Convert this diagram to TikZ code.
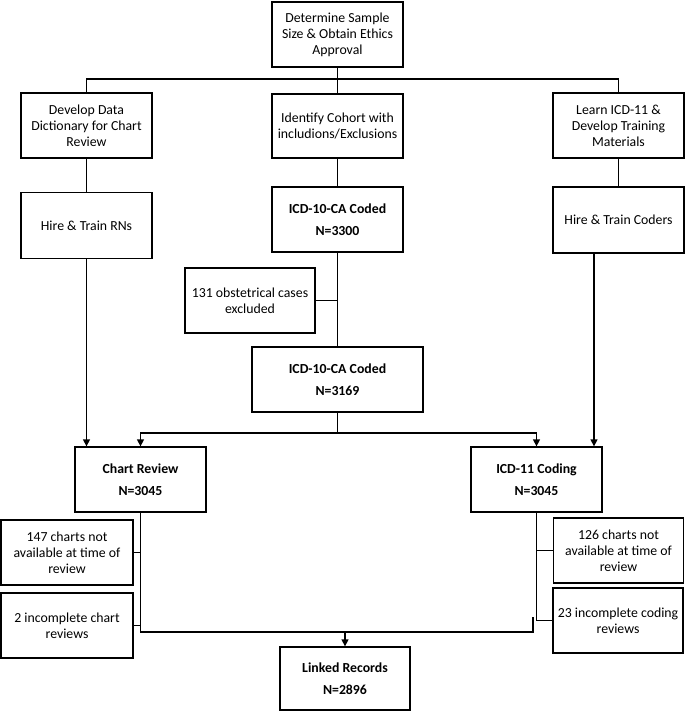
\documentclass[tikz,border=0pt]{standalone}
\usepackage{fontspec}
\setmainfont{Carlito}
\usetikzlibrary{arrows.meta}
\tikzset{
  box/.style={draw, line width=1.3pt, align=center, inner sep=0pt,
    font=\fontsize{13.8}{16}\selectfont},
  boldbox/.style={box, font=\fontsize{13.8}{21.5}\selectfont\bfseries},
  link/.style={line width=1.3pt},
  arr/.style={link, -{Triangle[length=7pt,width=7pt]}}
}
\begin{document}
\begin{tikzpicture}[x=1pt,y=-1pt]
\useasboundingbox (0,0) rectangle (685,712);

\node[box, minimum width=131pt, minimum height=65pt] (T) at (337.5,34.5)
  {Determine Sample\\Size \& Obtain Ethics\\Approval};
\node[box, minimum width=131pt, minimum height=65pt] (D) at (86.5,125.5)
  {Develop Data\\Dictionary for Chart\\Review};
\node[box, minimum width=131pt, minimum height=64pt] (I) at (337.5,126)
  {Identify Cohort with\\includions/Exclusions};
\node[box, minimum width=131pt, minimum height=65pt] (L) at (618.5,125.5)
  {Learn ICD-11 \&\\Develop Training\\Materials};
\node[box, minimum width=131pt, minimum height=66pt] (R) at (86.5,225.5)
  {Hire \& Train RNs};
\node[boldbox, minimum width=131pt, minimum height=65pt] (C1) at (337.5,219.5)
  {ICD-10-CA Coded\\N=3300};
\node[box, minimum width=131pt, minimum height=66pt] (H) at (618.5,220)
  {Hire \& Train Coders};
\node[box, minimum width=130pt, minimum height=65pt] (O) at (250,300.5)
  {131 obstetrical cases\\excluded};
\node[boldbox, minimum width=171pt, minimum height=65pt] (C2) at (337.5,379.5)
  {ICD-10-CA Coded\\N=3169};
\node[boldbox, minimum width=131pt, minimum height=65pt] (CR) at (140.5,479.5)
  {Chart Review\\N=3045};
\node[boldbox, minimum width=131pt, minimum height=65pt] (IC) at (536.5,479.5)
  {ICD-11 Coding\\N=3045};
\node[box, minimum width=132pt, minimum height=65pt] (A147) at (67,552.5)
  {147 charts not\\available at time of\\review};
\node[box, minimum width=132pt, minimum height=65pt] (A2) at (67,625.5)
  {2 incomplete chart\\reviews};
\node[box, minimum width=130pt, minimum height=65pt] (B126) at (618.5,550.5)
  {126 charts not\\available at time of\\review};
\node[box, minimum width=130pt, minimum height=65pt] (B23) at (618,620.5)
  {23 incomplete coding\\reviews};
\node[boldbox, minimum width=130pt, minimum height=63pt] (LR) at (345,678.5)
  {Linked Records\\N=2896};

\coordinate (bus) at (337.5,79);
\coordinate (split) at (337.5,433);
\coordinate (join) at (345,632);
\coordinate (jR) at (533,632);

\draw[link] (T.south) -- (I.north);
\draw[link] (D.north) |- (bus) -| (L.north);
\draw[link] (D.south) -- (R.north);
\draw[link] (I.south) -- (C1.north);
\draw[link] (L.south) -- (H.north);
\draw[link] (C1.south) -- (C2.north);
\draw[link] (O.east) -- (O.east -| C1.south);
\draw[link] (C2.south) -- (split);
\draw[arr] (split) -| (CR.north);
\draw[arr] (split) -| (IC.north);
\draw[arr] (R.south) -- (R.south |- CR.north);
\draw[arr] ([xshift=-24.5pt]H.south) -- ([xshift=-24.5pt]H.south |- IC.north);
\draw[link] (CR.south) |- (jR) -- ++(0,-15);
\draw[link] (A147.east) -- (A147.east -| CR.south);
\draw[link] (A2.east) -- (A2.east -| CR.south);
\draw[link] (IC.south) |- (B23.west);
\draw[link] (B126.west) -- (B126.west -| IC.south);
\draw[arr] (join) -- (LR.north);
\end{tikzpicture}
\end{document}
